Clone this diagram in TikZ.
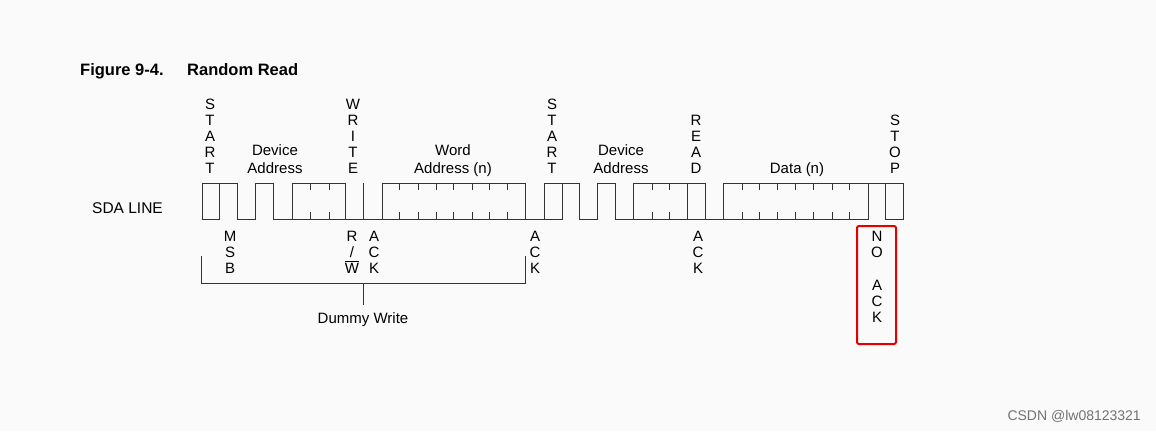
\documentclass[tikz,border=0pt]{standalone}
\usepackage{fontspec}
\setmainfont{Liberation Sans}
\begin{document}
\begin{tikzpicture}[x=1pt,y=-1pt,
  lab/.style={anchor=base,inner sep=0pt,font=\fontsize{15}{16}\selectfont},
  wave/.style={line width=1pt,black!80},
  tk/.style={line width=1pt,black!80}]
\fill[white!98!black] (0,0) rectangle (1156,431);
\useasboundingbox (0,0) rectangle (1156,431);
% title
\node[anchor=base west,inner sep=0pt,font=\fontsize{16.5}{18}\selectfont\bfseries] (title) at (80,75) {Figure 9-4.};
\node[anchor=base west,inner sep=0pt,font=\fontsize{16.5}{18}\selectfont\bfseries] (title2) at (187,75) {Random Read};
\node[anchor=base west,inner sep=0pt,font=\fontsize{15.5}{16}\selectfont] (sda) at (92,213) {SDA LINE};
% vertical labels
\newcommand{\vlab}[4]{\foreach \c [count=\i] in {#4} \node[lab] (#1-\i) at (#2,#3+16*\i-16) {\c};}
\vlab{st1}{210}{109}{S,T,A,R,T}
\vlab{wr}{353}{109}{W,R,I,T,E}
\vlab{st2}{552}{109}{S,T,A,R,T}
\vlab{rd}{696}{125}{R,E,A,D}
\vlab{sp}{895}{125}{S,T,O,P}
\vlab{msb}{230}{241}{M,S,B}
\vlab{ack1}{374}{241}{A,C,K}
\vlab{ack2}{535}{241}{A,C,K}
\vlab{ack3}{698}{241}{A,C,K}
\node[lab] (rw1) at (352,241) {R};
\node[lab] (rw2) at (352,257) {/};
\node[lab] (rw3) at (352,273) {$\overline{\mbox{W}}$};
\node[lab] (na1) at (877,241) {N};
\node[lab] (na2) at (877,257) {O};
\vlab{na}{877}{290}{A,C,K}
\node[lab,align=center] (da1) at (275,155) {Device};
\node[lab] (da2) at (275,173) {Address};
\node[lab] (wa1) at (453,155) {Word};
\node[lab] (wa2) at (453,173) {Address (n)};
\node[lab] (db1) at (621,155) {Device};
\node[lab] (db2) at (621,173) {Address};
\node[lab] (dn) at (797,173) {Data (n)};
\node[lab] (dw) at (363,323) {Dummy Write};
% waveform
\draw[wave] (202,183) rectangle (219,219);
\draw[wave] (219,183) -- (237,183) -- (237,219) -- (255,219) -- (255,183) -- (273,183) -- (273,219) -- (544,219);
\draw[wave] (292,183) rectangle (345,219);
\draw[wave] (363,183) -- (363,219);
\draw[wave] (382,183) rectangle (525,219);
\draw[wave] (544,183) rectangle (562,219);
\draw[wave] (562,183) -- (579,183) -- (579,219) -- (597,219) -- (597,183) -- (615,183) -- (615,219) -- (868,219);
\draw[wave] (633,183) rectangle (687,219);
\draw[wave] (687,183) -- (705,183) -- (705,219);
\draw[wave] (723,183) rectangle (868,219);
\draw[wave] (868,183) -- (885,183);
\draw[wave] (885,183) rectangle (903,219);
\foreach \x in {310,329,399,418,436,453,472,489,507,652,669,742,759,777,795,813,832,849}
  \draw[tk] (\x,183) -- (\x,190) (\x,212) -- (\x,219);
% bracket
\coordinate (bl) at (201,256);
\coordinate (br) at (525,256);
\coordinate (bm) at (363,283);
\draw[wave] (bl) -- (201,283) -- (525,283) -- (br);
\draw[wave] (bm) -- (363,305);
% red box
\draw[red!90!black,line width=2pt,rounded corners=2pt] (857,226) rectangle (896,344);
\node[anchor=base east,inner sep=0pt,text=black!55,font=\fontsize{14}{15}\selectfont] (wm) at (1141,420) {CSDN @lw08123321};
\end{tikzpicture}
\end{document}
